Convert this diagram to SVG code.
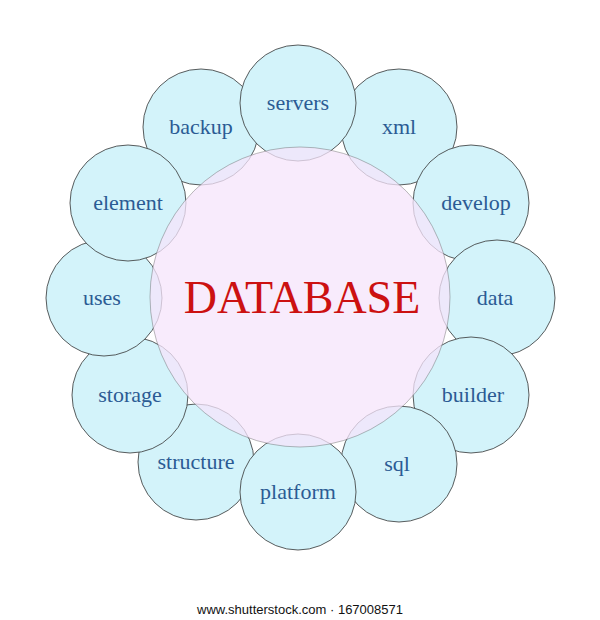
<svg xmlns="http://www.w3.org/2000/svg" width="600" height="620" viewBox="0 0 600 620">
<style>
.s{fill:#d3f3fa;stroke:#333;stroke-width:0.8}
.t{font-family:"Liberation Serif",serif;font-size:22px;fill:#2b5b94;text-anchor:middle}
</style>
<rect width="600" height="620" fill="#fff"/>
<g id="nodes">
<g id="n-backup"><circle class="s" cx="201" cy="127" r="58"/><text class="t" x="201" y="134">backup</text></g>
<g id="n-xml"><circle class="s" cx="399" cy="127" r="58"/><text class="t" x="399" y="134">xml</text></g>
<g id="n-servers"><circle class="s" cx="298" cy="103" r="58"/><text class="t" x="298" y="110">servers</text></g>
<g id="n-develop"><circle class="s" cx="471" cy="203" r="58"/><text class="t" x="476" y="210">develop</text></g>
<g id="n-data"><circle class="s" cx="497" cy="298" r="58"/><text class="t" x="495" y="305">data</text></g>
<g id="n-builder"><circle class="s" cx="471" cy="395" r="58"/><text class="t" x="473" y="402">builder</text></g>
<g id="n-sql"><circle class="s" cx="399" cy="464" r="58"/><text class="t" x="397" y="471">sql</text></g>
<g id="n-structure"><circle class="s" cx="196" cy="462" r="58"/><text class="t" x="196" y="469">structure</text></g>
<g id="n-platform"><circle class="s" cx="298" cy="492" r="58"/><text class="t" x="298" y="499">platform</text></g>
<g id="n-storage"><circle class="s" cx="130" cy="395" r="58"/><text class="t" x="130" y="402">storage</text></g>
<g id="n-uses"><circle class="s" cx="104" cy="298" r="58"/><text class="t" x="102" y="305">uses</text></g>
<g id="n-element"><circle class="s" cx="128" cy="203" r="58"/><text class="t" x="128" y="210">element</text></g>
<g id="n-center"><circle cx="300" cy="297" r="150" fill="#f6e4fb" fill-opacity="0.75" stroke="#555" stroke-width="0.8" stroke-opacity="0.5"/>
<text x="302" y="313" font-family="Liberation Serif,serif" font-size="46" fill="#cc1111" text-anchor="middle">DATABASE</text></g>
</g>
<g id="connectors"/>
<text x="300" y="614" font-family="Liberation Sans,sans-serif" font-size="13" fill="#111" text-anchor="middle">www.shutterstock.com · 167008571</text>
</svg>
